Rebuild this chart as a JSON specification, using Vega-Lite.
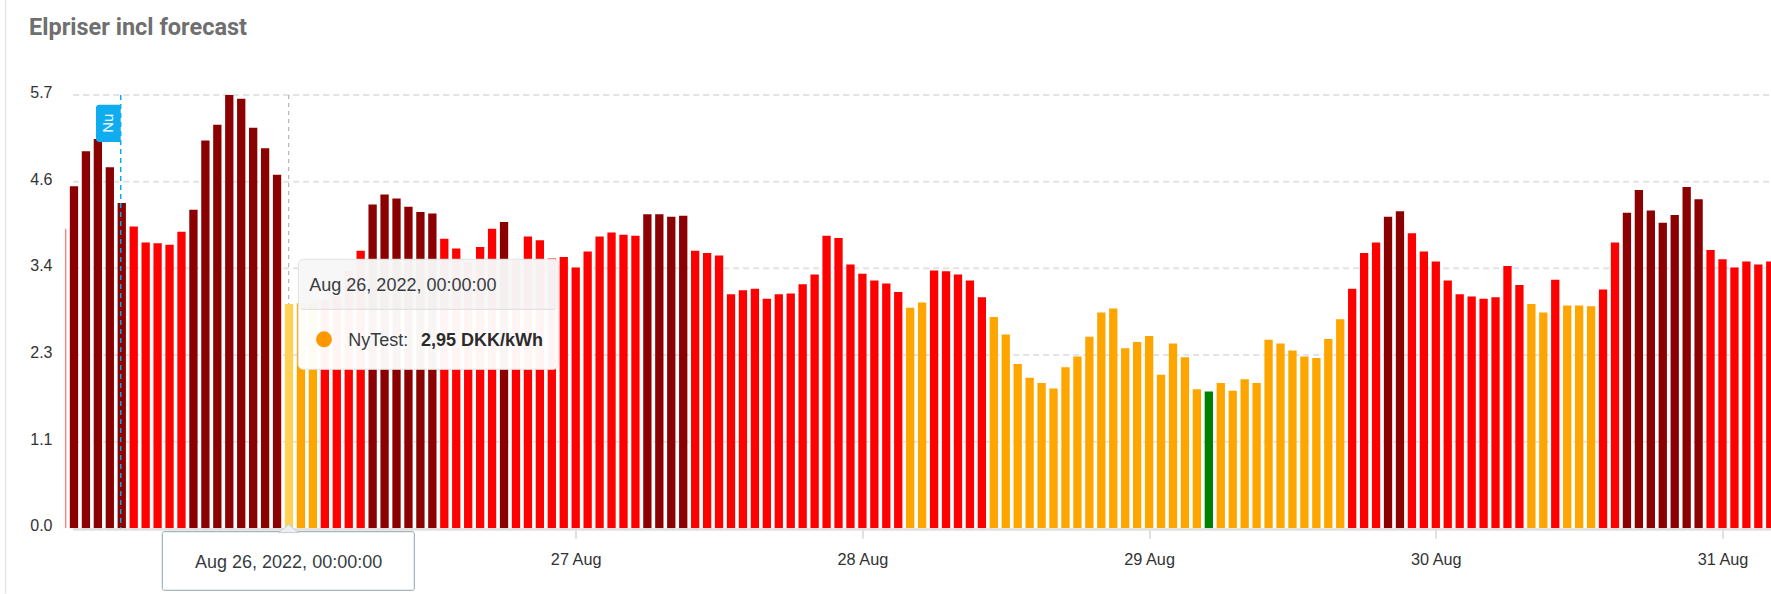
{"$schema":"https://vega.github.io/schema/vega-lite/v6.json","autosize":{"type":"none"},"width":1705.5,"height":433.3,"padding":{"left":65.5,"top":95,"right":0,"bottom":65.7},"background":"white","config":{"view":{"stroke":null},"font":"Liberation Sans"},
"title":{"text":"Elpriser incl forecast","anchor":"start","frame":"group","dx":-36.5,"offset":-59,"baseline":"alphabetic","font":"Roboto","fontSize":23.5,"fontWeight":700,"color":"#6f6f6f"},
"datasets":{"prices":[
{"t":"2022-08-25T05:00:00Z","v":3.94,"level":"high"},{"t":"2022-08-25T06:00:00Z","v":4.5,"level":"very high"},{"t":"2022-08-25T07:00:00Z","v":4.96,"level":"very high"},{"t":"2022-08-25T08:00:00Z","v":5.12,"level":"very high"},{"t":"2022-08-25T09:00:00Z","v":4.75,"level":"very high"},{"t":"2022-08-25T10:00:00Z","v":4.28,"level":"very high"},{"t":"2022-08-25T11:00:00Z","v":3.97,"level":"high"},{"t":"2022-08-25T12:00:00Z","v":3.76,"level":"high"},{"t":"2022-08-25T13:00:00Z","v":3.75,"level":"high"},{"t":"2022-08-25T14:00:00Z","v":3.73,"level":"high"},{"t":"2022-08-25T15:00:00Z","v":3.9,"level":"high"},{"t":"2022-08-25T16:00:00Z","v":4.19,"level":"very high"},{"t":"2022-08-25T17:00:00Z","v":5.1,"level":"very high"},{"t":"2022-08-25T18:00:00Z","v":5.31,"level":"very high"},{"t":"2022-08-25T19:00:00Z","v":5.7,"level":"very high"},{"t":"2022-08-25T20:00:00Z","v":5.65,"level":"very high"},{"t":"2022-08-25T21:00:00Z","v":5.27,"level":"very high"},{"t":"2022-08-25T22:00:00Z","v":5.0,"level":"very high"},{"t":"2022-08-25T23:00:00Z","v":4.65,"level":"very high"},
{"t":"2022-08-26T00:00:00Z","v":2.95,"level":"selected"},{"t":"2022-08-26T01:00:00Z","v":2.96,"level":"medium"},{"t":"2022-08-26T02:00:00Z","v":2.98,"level":"medium"},{"t":"2022-08-26T03:00:00Z","v":3.0,"level":"high"},{"t":"2022-08-26T04:00:00Z","v":3.05,"level":"high"},{"t":"2022-08-26T05:00:00Z","v":3.38,"level":"high"},{"t":"2022-08-26T06:00:00Z","v":3.65,"level":"high"},{"t":"2022-08-26T07:00:00Z","v":4.26,"level":"very high"},{"t":"2022-08-26T08:00:00Z","v":4.39,"level":"very high"},{"t":"2022-08-26T09:00:00Z","v":4.34,"level":"very high"},{"t":"2022-08-26T10:00:00Z","v":4.23,"level":"very high"},{"t":"2022-08-26T11:00:00Z","v":4.16,"level":"very high"},{"t":"2022-08-26T12:00:00Z","v":4.14,"level":"very high"},{"t":"2022-08-26T13:00:00Z","v":3.81,"level":"high"},{"t":"2022-08-26T14:00:00Z","v":3.68,"level":"high"},{"t":"2022-08-26T15:00:00Z","v":3.5,"level":"high"},{"t":"2022-08-26T16:00:00Z","v":3.7,"level":"high"},{"t":"2022-08-26T17:00:00Z","v":3.94,"level":"high"},{"t":"2022-08-26T18:00:00Z","v":4.03,"level":"very high"},{"t":"2022-08-26T19:00:00Z","v":3.53,"level":"high"},{"t":"2022-08-26T20:00:00Z","v":3.84,"level":"high"},{"t":"2022-08-26T21:00:00Z","v":3.79,"level":"high"},{"t":"2022-08-26T22:00:00Z","v":3.55,"level":"high"},{"t":"2022-08-26T23:00:00Z","v":3.57,"level":"high"},
{"t":"2022-08-27T00:00:00Z","v":3.43,"level":"high"},{"t":"2022-08-27T01:00:00Z","v":3.64,"level":"high"},{"t":"2022-08-27T02:00:00Z","v":3.84,"level":"high"},{"t":"2022-08-27T03:00:00Z","v":3.89,"level":"high"},{"t":"2022-08-27T04:00:00Z","v":3.86,"level":"high"},{"t":"2022-08-27T05:00:00Z","v":3.85,"level":"high"},{"t":"2022-08-27T06:00:00Z","v":4.13,"level":"very high"},{"t":"2022-08-27T07:00:00Z","v":4.13,"level":"very high"},{"t":"2022-08-27T08:00:00Z","v":4.1,"level":"very high"},{"t":"2022-08-27T09:00:00Z","v":4.11,"level":"very high"},{"t":"2022-08-27T10:00:00Z","v":3.65,"level":"high"},{"t":"2022-08-27T11:00:00Z","v":3.62,"level":"high"},{"t":"2022-08-27T12:00:00Z","v":3.59,"level":"high"},{"t":"2022-08-27T13:00:00Z","v":3.08,"level":"high"},{"t":"2022-08-27T14:00:00Z","v":3.13,"level":"high"},{"t":"2022-08-27T15:00:00Z","v":3.15,"level":"high"},{"t":"2022-08-27T16:00:00Z","v":3.02,"level":"high"},{"t":"2022-08-27T17:00:00Z","v":3.08,"level":"high"},{"t":"2022-08-27T18:00:00Z","v":3.09,"level":"high"},{"t":"2022-08-27T19:00:00Z","v":3.21,"level":"high"},{"t":"2022-08-27T20:00:00Z","v":3.34,"level":"high"},{"t":"2022-08-27T21:00:00Z","v":3.85,"level":"high"},{"t":"2022-08-27T22:00:00Z","v":3.82,"level":"high"},{"t":"2022-08-27T23:00:00Z","v":3.47,"level":"high"},
{"t":"2022-08-28T00:00:00Z","v":3.35,"level":"high"},{"t":"2022-08-28T01:00:00Z","v":3.26,"level":"high"},{"t":"2022-08-28T02:00:00Z","v":3.22,"level":"high"},{"t":"2022-08-28T03:00:00Z","v":3.11,"level":"high"},{"t":"2022-08-28T04:00:00Z","v":2.9,"level":"medium"},{"t":"2022-08-28T05:00:00Z","v":2.97,"level":"medium"},{"t":"2022-08-28T06:00:00Z","v":3.39,"level":"high"},{"t":"2022-08-28T07:00:00Z","v":3.38,"level":"high"},{"t":"2022-08-28T08:00:00Z","v":3.34,"level":"high"},{"t":"2022-08-28T09:00:00Z","v":3.26,"level":"high"},{"t":"2022-08-28T10:00:00Z","v":3.04,"level":"high"},{"t":"2022-08-28T11:00:00Z","v":2.78,"level":"medium"},{"t":"2022-08-28T12:00:00Z","v":2.55,"level":"medium"},{"t":"2022-08-28T13:00:00Z","v":2.16,"level":"medium"},{"t":"2022-08-28T14:00:00Z","v":1.98,"level":"medium"},{"t":"2022-08-28T15:00:00Z","v":1.91,"level":"medium"},{"t":"2022-08-28T16:00:00Z","v":1.84,"level":"medium"},{"t":"2022-08-28T17:00:00Z","v":2.12,"level":"medium"},{"t":"2022-08-28T18:00:00Z","v":2.26,"level":"medium"},{"t":"2022-08-28T19:00:00Z","v":2.52,"level":"medium"},{"t":"2022-08-28T20:00:00Z","v":2.84,"level":"medium"},{"t":"2022-08-28T21:00:00Z","v":2.89,"level":"medium"},{"t":"2022-08-28T22:00:00Z","v":2.37,"level":"medium"},{"t":"2022-08-28T23:00:00Z","v":2.45,"level":"medium"},
{"t":"2022-08-29T00:00:00Z","v":2.53,"level":"medium"},{"t":"2022-08-29T01:00:00Z","v":2.02,"level":"medium"},{"t":"2022-08-29T02:00:00Z","v":2.43,"level":"medium"},{"t":"2022-08-29T03:00:00Z","v":2.25,"level":"medium"},{"t":"2022-08-29T04:00:00Z","v":1.83,"level":"medium"},{"t":"2022-08-29T05:00:00Z","v":1.8,"level":"low"},{"t":"2022-08-29T06:00:00Z","v":1.91,"level":"medium"},{"t":"2022-08-29T07:00:00Z","v":1.81,"level":"medium"},{"t":"2022-08-29T08:00:00Z","v":1.96,"level":"medium"},{"t":"2022-08-29T09:00:00Z","v":1.91,"level":"medium"},{"t":"2022-08-29T10:00:00Z","v":2.48,"level":"medium"},{"t":"2022-08-29T11:00:00Z","v":2.43,"level":"medium"},{"t":"2022-08-29T12:00:00Z","v":2.34,"level":"medium"},{"t":"2022-08-29T13:00:00Z","v":2.26,"level":"medium"},{"t":"2022-08-29T14:00:00Z","v":2.24,"level":"medium"},{"t":"2022-08-29T15:00:00Z","v":2.49,"level":"medium"},{"t":"2022-08-29T16:00:00Z","v":2.75,"level":"medium"},{"t":"2022-08-29T17:00:00Z","v":3.15,"level":"high"},{"t":"2022-08-29T18:00:00Z","v":3.62,"level":"high"},{"t":"2022-08-29T19:00:00Z","v":3.76,"level":"high"},{"t":"2022-08-29T20:00:00Z","v":4.1,"level":"very high"},{"t":"2022-08-29T21:00:00Z","v":4.17,"level":"very high"},{"t":"2022-08-29T22:00:00Z","v":3.88,"level":"high"},{"t":"2022-08-29T23:00:00Z","v":3.64,"level":"high"},
{"t":"2022-08-30T00:00:00Z","v":3.51,"level":"high"},{"t":"2022-08-30T01:00:00Z","v":3.26,"level":"high"},{"t":"2022-08-30T02:00:00Z","v":3.08,"level":"high"},{"t":"2022-08-30T03:00:00Z","v":3.05,"level":"high"},{"t":"2022-08-30T04:00:00Z","v":3.02,"level":"high"},{"t":"2022-08-30T05:00:00Z","v":3.04,"level":"high"},{"t":"2022-08-30T06:00:00Z","v":3.45,"level":"high"},{"t":"2022-08-30T07:00:00Z","v":3.2,"level":"high"},{"t":"2022-08-30T08:00:00Z","v":2.95,"level":"medium"},{"t":"2022-08-30T09:00:00Z","v":2.84,"level":"medium"},{"t":"2022-08-30T10:00:00Z","v":3.27,"level":"high"},{"t":"2022-08-30T11:00:00Z","v":2.93,"level":"medium"},{"t":"2022-08-30T12:00:00Z","v":2.93,"level":"medium"},{"t":"2022-08-30T13:00:00Z","v":2.92,"level":"medium"},{"t":"2022-08-30T14:00:00Z","v":3.14,"level":"high"},{"t":"2022-08-30T15:00:00Z","v":3.76,"level":"high"},{"t":"2022-08-30T16:00:00Z","v":4.15,"level":"very high"},{"t":"2022-08-30T17:00:00Z","v":4.45,"level":"very high"},{"t":"2022-08-30T18:00:00Z","v":4.18,"level":"very high"},{"t":"2022-08-30T19:00:00Z","v":4.02,"level":"very high"},{"t":"2022-08-30T20:00:00Z","v":4.12,"level":"very high"},{"t":"2022-08-30T21:00:00Z","v":4.49,"level":"very high"},{"t":"2022-08-30T22:00:00Z","v":4.33,"level":"very high"},{"t":"2022-08-30T23:00:00Z","v":3.66,"level":"high"},
{"t":"2022-08-31T00:00:00Z","v":3.54,"level":"high"},{"t":"2022-08-31T01:00:00Z","v":3.43,"level":"high"},{"t":"2022-08-31T02:00:00Z","v":3.51,"level":"high"},{"t":"2022-08-31T03:00:00Z","v":3.47,"level":"high"},{"t":"2022-08-31T04:00:00Z","v":3.51,"level":"high"}
]},
"data":{"name":"prices"},
"encoding":{"x":{"field":"t","type":"temporal","scale":{"type":"utc","domain":["2022-08-25T05:17:24Z","2022-08-31T04:03:36Z"],"nice":false,"padding":0},"title":null,
"axis":{"values":["2022-08-27T00:00:00Z","2022-08-28T00:00:00Z","2022-08-29T00:00:00Z","2022-08-30T00:00:00Z","2022-08-31T00:00:00Z"],"labelExpr":"utcFormat(datum.value,'%d Aug')","grid":false,"domain":false,"tickColor":"#e0e0e0","tickWidth":2,"tickSize":10,"labelFontSize":16.3,"labelColor":"#333333","labelPadding":13,"labelFont":"Liberation Sans","labelOverlap":false,"labelBound":false}},
"y":{"field":"v","type":"quantitative","scale":{"domain":[0,5.7],"nice":false,"zero":false},"title":null,
"axis":{"values":[0,1.14,2.28,3.42,4.56,5.7],"format":".1f","grid":false,"domain":false,"ticks":false,"labelFontSize":16,"labelColor":"#333333","labelPadding":13.5,"labelBaseline":"alphabetic","labelOffset":2.5,"labelFont":"Liberation Sans"}}},
"layer":[
{"data":{"values":[{"a":"2022-08-25T05:56:00Z","b":"2022-08-31T04:03:36Z","v":1.14},{"a":"2022-08-25T05:56:00Z","b":"2022-08-31T04:03:36Z","v":2.28},{"a":"2022-08-25T05:56:00Z","b":"2022-08-31T04:03:36Z","v":3.42},{"a":"2022-08-25T05:56:00Z","b":"2022-08-31T04:03:36Z","v":4.56},{"a":"2022-08-25T05:56:00Z","b":"2022-08-31T04:03:36Z","v":5.7}]},"mark":{"type":"rule","color":"#e3e3e3","strokeWidth":2,"strokeDash":[6,4]},"encoding":{"x":{"field":"a","type":"temporal"},"x2":{"field":"b"},"y":{"field":"v","type":"quantitative"}}},
{"data":{"values":[{"a":"2022-08-25T05:56:00Z","b":"2022-08-31T04:03:36Z","v":-0.015}]},"mark":{"type":"rule","color":"#e0e0e0","strokeWidth":2.4},"encoding":{"x":{"field":"a","type":"temporal"},"x2":{"field":"b"},"y":{"field":"v","type":"quantitative"}}},
{"data":{"values":[{"t":"2022-08-25T00:16:12Z","v":6.95,"v2":-0.86}]},"mark":{"type":"rule","color":"#e6e6e6","strokeWidth":1.5},"encoding":{"x":{"field":"t","type":"temporal"},"y":{"field":"v","type":"quantitative"},"y2":{"field":"v2"}}},
{"data":{"values":[{"t":"2022-08-25T23:58:00Z","v":5.7,"v2":2.95}]},"mark":{"type":"rule","color":"#b6b6b6","strokeWidth":1.2,"strokeDash":[4,4]},"encoding":{"x":{"field":"t","type":"temporal"},"y":{"field":"v","type":"quantitative"},"y2":{"field":"v2"}}},
{"mark":{"type":"bar","width":8.3,"clip":true,"orient":"vertical"},"encoding":{"color":{"field":"level","type":"nominal","legend":null,"scale":{"domain":["very high","high","medium","low","selected"],"range":["#8b0000","#ff0000","#ffa500","#008000","#ffd257"]}}}},
{"data":{"values":[{"t":"2022-08-25T09:54:36Z","v":5.7,"v2":0}]},"mark":{"type":"rule","color":"#00aeef","strokeWidth":1.5,"strokeDash":[5,4]},"encoding":{"x":{"field":"t","type":"temporal"},"y":{"field":"v","type":"quantitative"},"y2":{"field":"v2"}}},
{"data":{"values":[{"a":"2022-08-25T07:50:38Z","b":"2022-08-25T09:54:36Z","v":5.572,"v2":5.082}]},"mark":{"type":"rect","fill":"#10acf0","cornerRadiusTopLeft":3,"cornerRadiusBottomLeft":3},"encoding":{"x":{"field":"a","type":"temporal"},"x2":{"field":"b"},"y":{"field":"v","type":"quantitative"},"y2":{"field":"v2"}}},
{"data":{"values":[{"t":"2022-08-25T08:52:48Z","v":5.33,"s":"Nu"}]},"mark":{"type":"text","angle":270,"align":"center","baseline":"middle","color":"white","fontSize":15,"font":"Liberation Sans"},"encoding":{"x":{"field":"t","type":"temporal"},"y":{"field":"v","type":"quantitative"},"text":{"field":"s"}}},
{"data":{"values":[{"a":"2022-08-26T00:46:43Z","b":"2022-08-26T22:32:35Z","v":3.539,"v2":2.092}]},"mark":{"type":"rect","fill":"white","fillOpacity":0.96,"stroke":"#e3e3e3","strokeWidth":1,"cornerRadius":5},"encoding":{"x":{"field":"a","type":"temporal"},"x2":{"field":"b"},"y":{"field":"v","type":"quantitative"},"y2":{"field":"v2"}}},
{"data":{"values":[{"a":"2022-08-26T00:46:43Z","b":"2022-08-26T22:32:35Z","v":3.539,"v2":2.881}]},"mark":{"type":"rect","fill":"#e8e6e6","fillOpacity":0.3,"cornerRadiusTopLeft":5,"cornerRadiusTopRight":5},"encoding":{"x":{"field":"a","type":"temporal"},"x2":{"field":"b"},"y":{"field":"v","type":"quantitative"},"y2":{"field":"v2"}}},
{"data":{"values":[{"a":"2022-08-26T01:03:00Z","b":"2022-08-26T22:16:00Z","v":2.881}]},"mark":{"type":"rule","color":"#dddddd","strokeWidth":1},"encoding":{"x":{"field":"a","type":"temporal"},"x2":{"field":"b"},"y":{"field":"v","type":"quantitative"}}},
{"data":{"values":[{"t":"2022-08-26T02:55:48Z","v":2.486}]},"mark":{"type":"point","filled":true,"shape":"circle","size":254,"color":"#ff9800","opacity":1},"encoding":{"x":{"field":"t","type":"temporal"},"y":{"field":"v","type":"quantitative"}}},
{"data":{"values":[{"t":"2022-08-26T01:42:00Z","v":3.126,"s":"Aug 26, 2022, 00:00:00"}]},"mark":{"type":"text","align":"left","baseline":"alphabetic","fontSize":18,"color":"#373d3f","font":"Liberation Sans"},"encoding":{"x":{"field":"t","type":"temporal"},"y":{"field":"v","type":"quantitative"},"text":{"field":"s"}}},
{"data":{"values":[{"t":"2022-08-26T04:57:50Z","v":2.398,"s":"NyTest:"}]},"mark":{"type":"text","align":"left","baseline":"alphabetic","fontSize":18,"color":"#373d3f","font":"Liberation Sans"},"encoding":{"x":{"field":"t","type":"temporal"},"y":{"field":"v","type":"quantitative"},"text":{"field":"s"}}},
{"data":{"values":[{"t":"2022-08-26T11:03:00Z","v":2.398,"s":"2,95 DKK/kWh"}]},"mark":{"type":"text","align":"left","baseline":"alphabetic","fontSize":18,"fontWeight":"bold","color":"#2b2b2b","font":"Liberation Sans"},"encoding":{"x":{"field":"t","type":"temporal"},"y":{"field":"v","type":"quantitative"},"text":{"field":"s"}}},
{"data":{"values":[{"a":"2022-08-25T13:23:38Z","b":"2022-08-26T10:29:24Z","v":-0.0447,"v2":-0.8156}]},"mark":{"type":"rect","fill":"white","stroke":"#90a4ae","strokeWidth":1,"cornerRadius":2},"encoding":{"x":{"field":"a","type":"temporal"},"x2":{"field":"b"},"y":{"field":"v","type":"quantitative"},"y2":{"field":"v2"}}},
{"data":{"values":[{"t":"2022-08-25T23:58:00Z","v":-0.002}]},"mark":{"type":"point","filled":true,"shape":"M-1 0.42L0 -0.42L1 0.42Z","size":400,"fill":"#eceff1","stroke":"#c3ced4","strokeWidth":1,"opacity":1},"encoding":{"x":{"field":"t","type":"temporal"},"y":{"field":"v","type":"quantitative"}}},
{"data":{"values":[{"t":"2022-08-25T23:58:00Z","v":-0.5183,"s":"Aug 26, 2022, 00:00:00"}]},"mark":{"type":"text","align":"center","baseline":"alphabetic","fontSize":18,"color":"#373d3f","font":"Liberation Sans"},"encoding":{"x":{"field":"t","type":"temporal"},"y":{"field":"v","type":"quantitative"},"text":{"field":"s"}}}
]}
